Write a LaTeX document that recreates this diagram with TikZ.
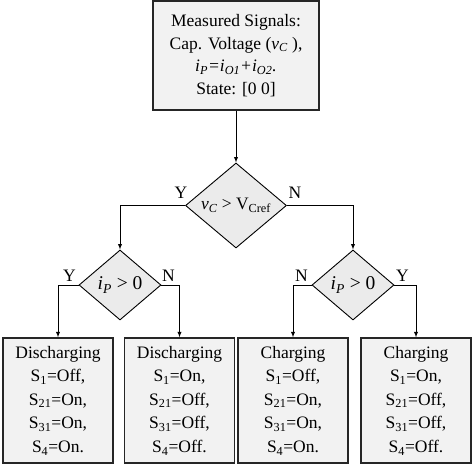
\documentclass[tikz,border=0pt]{standalone}
\usepackage{fontspec}
\setmainfont{Liberation Serif}
\usepackage{tikz}
\usetikzlibrary{arrows,positioning,shapes.geometric}

\begin{document}
\begin{tikzpicture}[
      x=1pt, y=-1pt,
      line width=.9pt,
      font=\fontsize{17.5pt}{23pt}\selectfont,
      signals/.style = {
        rectangle, draw=black!85, fill=black!5, line width=1.3pt,
        minimum width=166pt, minimum height=109pt, align=center, inner sep=2pt,
        font=\fontsize{17.5pt}{22.5pt}\selectfont,
      },
      state/.style = {
        rectangle, draw=black!85, fill=black!5, line width=1.3pt,
        minimum width=110pt, minimum height=125pt, align=center, inner sep=2pt,
        font=\fontsize{17.5pt}{23.6pt}\selectfont,
      },
      decision/.style = {
        diamond, draw=black, fill=black!8, line width=.9pt, inner sep=0pt,
      },
      connector/.style = {
        black, line width=.9pt, -latex,
      },
      yesno/.style = { anchor=south, inner sep=0pt },
    ]
    \useasboundingbox (0,0) rectangle (474,468);
    \node[signals] (Measured) at (236,55.5)
      {Measured Signals:\\ Cap. Voltage ({\itshape v}\textsubscript{\itshape C} ),\\
       {\itshape i\textsubscript{P}=i\textsubscript{O1}+i\textsubscript{O2}.}\\ State: [0 0]};
    \node[decision, minimum width=101pt, minimum height=85pt] (CheckV) at (236,205.5)
      {{\itshape v}\textsubscript{\itshape C} > V\textsubscript{Cref}};
    \node[decision, minimum width=82pt, minimum height=70pt,
      font=\fontsize{19.5pt}{23pt}\selectfont] (CheckL) at (120,285)
      {{\itshape i\textsubscript{P}} > 0};
    \node[decision, minimum width=82pt, minimum height=70pt,
      font=\fontsize{19.5pt}{23pt}\selectfont] (CheckR) at (353,285)
      {{\itshape i\textsubscript{P}} > 0};
    % output states
    \node[state] (DisA) at (58,400.5)
      {Discharging\\ S\textsubscript{1}=Off,\\ S\textsubscript{21}=On,\\ S\textsubscript{31}=On,\\ S\textsubscript{4}=On.};
    \node[state] (DisB) at (179.5,400.5)
      {Discharging\\ S\textsubscript{1}=On,\\ S\textsubscript{21}=Off,\\ S\textsubscript{31}=Off,\\ S\textsubscript{4}=Off.};
    \node[state] (ChA) at (293,400.5)
      {Charging\\ S\textsubscript{1}=Off,\\ S\textsubscript{21}=On,\\ S\textsubscript{31}=On,\\ S\textsubscript{4}=On.};
    \node[state] (ChB) at (416,400.5)
      {Charging\\ S\textsubscript{1}=On,\\ S\textsubscript{21}=Off,\\ S\textsubscript{31}=Off,\\ S\textsubscript{4}=Off.};
    % connectors
    \draw[connector] (Measured) -- (CheckV);
    \draw[connector] (CheckV.west) -| (CheckL.north);
    \draw[connector] (CheckV.east) -| (CheckR.north);
    \draw[connector] (CheckL.west) -| (DisA.north);
    \draw[connector] (CheckL.east) -| (DisB.north);
    \draw[connector] (CheckR.west) -| (ChA.north);
    \draw[connector] (CheckR.east) -| (ChB.north);
    % branch labels
    \node[yesno] (YesV) at ([shift={(-4,-7)}]CheckV.west) {Y};
    \node[yesno] (NoV)  at ([shift={(8,-7)}]CheckV.east) {N};
    \node[yesno] (YesL) at ([shift={(-9,-3)}]CheckL.west) {Y};
    \node[yesno] (NoL)  at ([shift={(7,-3)}]CheckL.east) {N};
    \node[yesno] (NoR)  at ([shift={(-10,-3)}]CheckR.west) {N};
    \node[yesno] (YesR) at ([shift={(8,-3)}]CheckR.east) {Y};
  \end{tikzpicture}
\end{document}
